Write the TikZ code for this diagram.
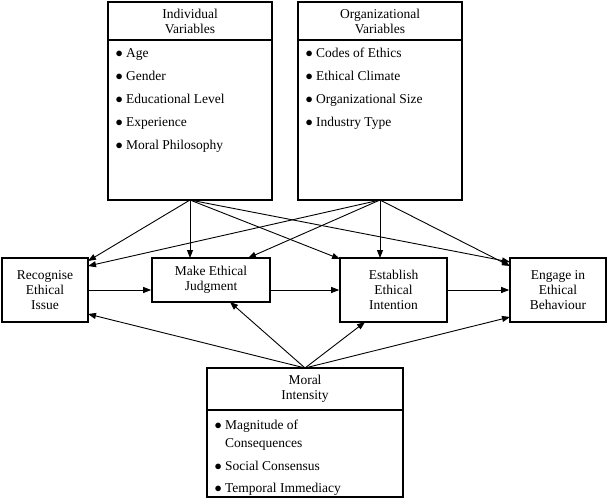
\documentclass[tikz,border=0pt]{standalone}
\usepackage{fontspec}
\setmainfont{Liberation Serif}
\usetikzlibrary{arrows.meta}
\begin{document}
\begin{tikzpicture}[x=1pt,y=-1pt,
  box/.style={draw,line width=1.6pt},
  arr/.style={-{Triangle[length=8pt,width=6pt]},line width=0.9pt},
  lbl/.style={font=\fontsize{13.5}{15}\selectfont,align=center},
  itm/.style={font=\fontsize{13.5}{14}\selectfont,anchor=base west,align=left}]
\useasboundingbox (0,0) rectangle (610,499);
% top boxes
\draw[box] (108,2) rectangle (272,200); \draw[line width=1.2pt] (108,40)--(272,40);
\node[lbl] at (190,21) {Individual\\Variables};
\foreach \t [count=\i] in {Age,Gender,Educational Level,Experience,Moral Philosophy}
  \node[itm] at (112,34+\i*23) {$\bullet$ \t};
\draw[box] (298,2) rectangle (462,200); \draw[line width=1.2pt] (298,40)--(462,40);
\node[lbl] at (380,21) {Organizational\\Variables};
\foreach \t [count=\i] in {Codes of Ethics,Ethical Climate,Organizational Size,Industry Type}
  \node[itm] at (302,34+\i*23) {$\bullet$ \t};
\coordinate (iv) at (190,200); \coordinate (ov) at (380,200);
% middle
\node[box,lbl,minimum width=86pt,minimum height=64pt,inner sep=1pt] (rec) at (45,290) {Recognise\\Ethical\\Issue};
\node[box,lbl,minimum width=118pt,minimum height=44pt,inner sep=1pt] (mej) at (211,280) {Make Ethical\\Judgment};
\node[box,lbl,minimum width=107pt,minimum height=64pt,inner sep=1pt] (est) at (393.5,290) {Establish\\Ethical\\Intention};
\node[box,lbl,minimum width=96pt,minimum height=64pt,inner sep=1pt] (eng) at (558,290) {Engage in\\Ethical\\Behaviour};
% moral
\draw[box] (207,368) rectangle (403,497); \draw[line width=1.2pt] (207,410)--(403,410);
\node[lbl] at (305,389) {Moral\\Intensity};
\node[itm] at (211,429) {$\bullet$ Magnitude of};
\node[itm] at (211,447) {\phantom{$\bullet$} Consequences};
\node[itm] at (211,470) {$\bullet$ Social Consensus};
\node[itm] at (211,492) {$\bullet$ Temporal Immediacy};
\coordinate (mi) at (305,368);
% arrows
\draw[arr] (iv)--(88,261); \draw[arr] (iv)--(190,258); \draw[arr] (iv)--(340,259); \draw[arr] (iv)--(510,262);
\draw[arr] (ov)--(88,266); \draw[arr] (ov)--(248,258); \draw[arr] (ov)--(380,258); \draw[arr] (ov)--(510,266);
\draw[arr] (rec.east|-0,290)--(mej.west|-0,290);
\draw[arr] (mej.east|-0,290)--(est.west|-0,290);
\draw[arr] (est.east|-0,290)--(eng.west|-0,290);
\draw[arr] (mi)--(88,314); \draw[arr] (mi)--(230,302); \draw[arr] (mi)--(365,322); \draw[arr] (mi)--(510,317);
\end{tikzpicture}
\end{document}
